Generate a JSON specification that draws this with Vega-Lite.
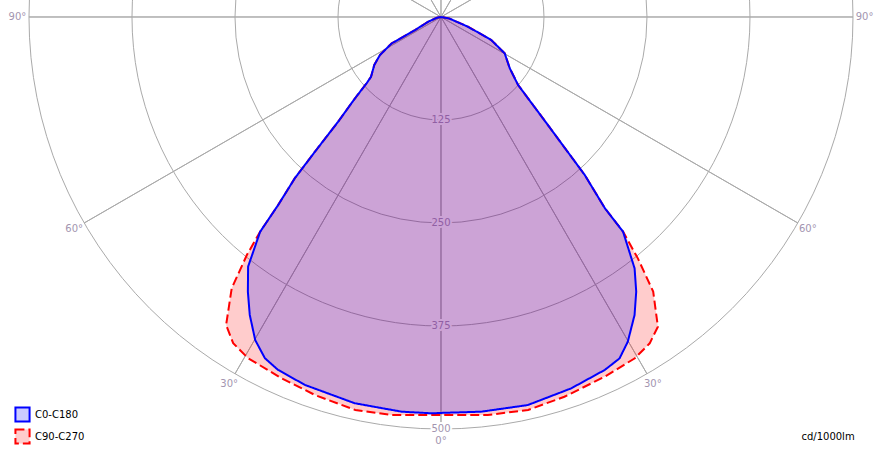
{
  "$schema": "https://vega.github.io/schema/vega-lite/v6.json",
  "width": 888,
  "height": 457,
  "autosize": "none",
  "padding": 0,
  "background": "white",
  "config": {"view": {"stroke": null}, "font": "DejaVu Sans"},
  "datasets": {
    "rings": [{"r": 125}, {"r": 250}, {"r": 375}, {"r": 500}],
    "spokes": [{"ang": 0}, {"ang": 30}, {"ang": -30}, {"ang": 60}, {"ang": -60}, {"ang": 90}, {"ang": -90}, {"ang": 120}, {"ang": -120}, {"ang": 150}, {"ang": -150}, {"ang": 180}],
    "anglabels": [{"ang": 0, "label": "0°"}, {"ang": 30, "label": "30°"}, {"ang": -30, "label": "30°"}, {"ang": 60, "label": "60°"}, {"ang": -60, "label": "60°"}, {"ang": 90, "label": "90°"}, {"ang": -90, "label": "90°"}],
    "unit": [{"t": "cd/1000lm"}],
    "curves": [
      {"series": "C0-C180", "ang": -90, "cd": 0},
      {"series": "C0-C180", "ang": -80, "cd": 5},
      {"series": "C0-C180", "ang": -69.7, "cd": 16.4},
      {"series": "C0-C180", "ang": -63.4, "cd": 35.3},
      {"series": "C0-C180", "ang": -61.9, "cd": 67.8},
      {"series": "C0-C180", "ang": -58.1, "cd": 87.2},
      {"series": "C0-C180", "ang": -54.3, "cd": 99.7},
      {"series": "C0-C180", "ang": -49.5, "cd": 111.7},
      {"series": "C0-C180", "ang": -48.3, "cd": 120.9},
      {"series": "C0-C180", "ang": -46.6, "cd": 143.6},
      {"series": "C0-C180", "ang": -44.5, "cd": 178.0},
      {"series": "C0-C180", "ang": -43.1, "cd": 223.8},
      {"series": "C0-C180", "ang": -42.2, "cd": 264.0},
      {"series": "C0-C180", "ang": -40.9, "cd": 301.7},
      {"series": "C0-C180", "ang": -40.1, "cd": 340.8},
      {"series": "C0-C180", "ang": -37.7, "cd": 382.8},
      {"series": "C0-C180", "ang": -35.1, "cd": 407.6},
      {"series": "C0-C180", "ang": -32.7, "cd": 429.6},
      {"series": "C0-C180", "ang": -29.9, "cd": 452.3},
      {"series": "C0-C180", "ang": -27.3, "cd": 466.0},
      {"series": "C0-C180", "ang": -24.8, "cd": 471.7},
      {"series": "C0-C180", "ang": -20.3, "cd": 476.1},
      {"series": "C0-C180", "ang": -12.6, "cd": 480.3},
      {"series": "C0-C180", "ang": -5.7, "cd": 481.4},
      {"series": "C0-C180", "ang": -1.3, "cd": 481.1},
      {"series": "C0-C180", "ang": 0, "cd": 480.5},
      {"series": "C0-C180", "ang": 5.8, "cd": 481.5},
      {"series": "C0-C180", "ang": 12.6, "cd": 482.6},
      {"series": "C0-C180", "ang": 19.3, "cd": 477.6},
      {"series": "C0-C180", "ang": 24.9, "cd": 472.2},
      {"series": "C0-C180", "ang": 27.6, "cd": 467.6},
      {"series": "C0-C180", "ang": 29.9, "cd": 454.7},
      {"series": "C0-C180", "ang": 33.0, "cd": 431.3},
      {"series": "C0-C180", "ang": 35.4, "cd": 409.0},
      {"series": "C0-C180", "ang": 37.6, "cd": 385.1},
      {"series": "C0-C180", "ang": 40.3, "cd": 341.6},
      {"series": "C0-C180", "ang": 40.6, "cd": 305.6},
      {"series": "C0-C180", "ang": 42.3, "cd": 259.2},
      {"series": "C0-C180", "ang": 44.7, "cd": 184.5},
      {"series": "C0-C180", "ang": 48.6, "cd": 124.7},
      {"series": "C0-C180", "ang": 53.3, "cd": 104.1},
      {"series": "C0-C180", "ang": 60.3, "cd": 89.0},
      {"series": "C0-C180", "ang": 65.4, "cd": 67.1},
      {"series": "C0-C180", "ang": 70.2, "cd": 34.8},
      {"series": "C0-C180", "ang": 80, "cd": 10},
      {"series": "C0-C180", "ang": 90, "cd": 0},
      {"series": "C90-C270", "ang": -90, "cd": 0},
      {"series": "C90-C270", "ang": -80, "cd": 5},
      {"series": "C90-C270", "ang": -69.7, "cd": 16.4},
      {"series": "C90-C270", "ang": -63.4, "cd": 35.3},
      {"series": "C90-C270", "ang": -61.9, "cd": 67.8},
      {"series": "C90-C270", "ang": -58.1, "cd": 87.2},
      {"series": "C90-C270", "ang": -54.3, "cd": 99.7},
      {"series": "C90-C270", "ang": -49.5, "cd": 111.7},
      {"series": "C90-C270", "ang": -48.3, "cd": 120.9},
      {"series": "C90-C270", "ang": -46.6, "cd": 143.6},
      {"series": "C90-C270", "ang": -44.5, "cd": 178.0},
      {"series": "C90-C270", "ang": -43.1, "cd": 223.8},
      {"series": "C90-C270", "ang": -42.2, "cd": 264.0},
      {"series": "C90-C270", "ang": -40.9, "cd": 301.7},
      {"series": "C90-C270", "ang": -40.1, "cd": 340.8},
      {"series": "C90-C270", "ang": -39.2, "cd": 372.8},
      {"series": "C90-C270", "ang": -37.65, "cd": 415.8},
      {"series": "C90-C270", "ang": -34.9, "cd": 455.8},
      {"series": "C90-C270", "ang": -32.5, "cd": 469.4},
      {"series": "C90-C270", "ang": -29.5, "cd": 475.7},
      {"series": "C90-C270", "ang": -23.8, "cd": 479.2},
      {"series": "C90-C270", "ang": -18.4, "cd": 483.6},
      {"series": "C90-C270", "ang": -12.3, "cd": 488.2},
      {"series": "C90-C270", "ang": -7.1, "cd": 486.7},
      {"series": "C90-C270", "ang": -1.8, "cd": 483.3},
      {"series": "C90-C270", "ang": 0, "cd": 483.0},
      {"series": "C90-C270", "ang": 2.0, "cd": 483.3},
      {"series": "C90-C270", "ang": 6.7, "cd": 486.4},
      {"series": "C90-C270", "ang": 12.5, "cd": 488.5},
      {"series": "C90-C270", "ang": 18.0, "cd": 484.6},
      {"series": "C90-C270", "ang": 24.5, "cd": 479.6},
      {"series": "C90-C270", "ang": 29.6, "cd": 476.3},
      {"series": "C90-C270", "ang": 32.6, "cd": 470.1},
      {"series": "C90-C270", "ang": 35.0, "cd": 458.9},
      {"series": "C90-C270", "ang": 37.7, "cd": 421.1},
      {"series": "C90-C270", "ang": 39.2, "cd": 378.0},
      {"series": "C90-C270", "ang": 40.3, "cd": 341.6},
      {"series": "C90-C270", "ang": 40.6, "cd": 305.6},
      {"series": "C90-C270", "ang": 42.3, "cd": 259.2},
      {"series": "C90-C270", "ang": 44.7, "cd": 184.5},
      {"series": "C90-C270", "ang": 48.6, "cd": 124.7},
      {"series": "C90-C270", "ang": 53.3, "cd": 104.1},
      {"series": "C90-C270", "ang": 60.3, "cd": 89.0},
      {"series": "C90-C270", "ang": 65.4, "cd": 67.1},
      {"series": "C90-C270", "ang": 70.2, "cd": 34.8},
      {"series": "C90-C270", "ang": 80, "cd": 10},
      {"series": "C90-C270", "ang": 90, "cd": 0}
    ]
  },
  "layer": [
    {
      "data": {"name": "rings"},
      "mark": {"type": "arc", "theta": 0, "theta2": 6.2832, "filled": false, "stroke": "#aaaaaa", "strokeWidth": 1},
      "encoding": {
        "x": {"datum": 0, "type": "quantitative", "scale": {"domain": [-535.19, 542.48], "nice": false, "zero": false}, "axis": null},
        "y": {"datum": 0, "type": "quantitative", "scale": {"domain": [-20.63, 534.0], "reverse": true, "nice": false, "zero": false}, "axis": null},
        "radius": {"field": "r", "type": "quantitative", "stack": null, "scale": {"type": "linear", "domain": [0, 500], "range": [0, 412], "zero": true}}
      }
    },
    {
      "data": {"name": "spokes"},
      "mark": {"type": "arc", "filled": false, "stroke": "#aaaaaa", "strokeWidth": 1},
      "encoding": {
        "x": {"datum": 0, "type": "quantitative", "axis": null},
        "y": {"datum": 0, "type": "quantitative", "axis": null},
        "theta": {"field": "ang", "type": "quantitative", "stack": null, "scale": {"domain": [180, -180], "range": [0, 6.283185307], "zero": false, "nice": false}},
        "theta2": {"field": "ang"},
        "radius": {"datum": 500, "type": "quantitative", "stack": null}
      }
    },
    {
      "data": {"name": "rings"},
      "mark": {"type": "text", "fontSize": 10, "fill": "white", "stroke": "white", "strokeWidth": 4, "strokeJoin": "round", "align": "center", "baseline": "middle"},
      "encoding": {
        "x": {"datum": 0, "type": "quantitative", "axis": null},
        "y": {"field": "r", "type": "quantitative", "axis": null},
        "text": {"field": "r", "type": "quantitative"}
      }
    },
    {
      "data": {"name": "rings"},
      "mark": {"type": "text", "fontSize": 10, "fill": "#a395b0", "align": "center", "baseline": "middle"},
      "encoding": {
        "x": {"datum": 0, "type": "quantitative", "axis": null},
        "y": {"field": "r", "type": "quantitative", "axis": null},
        "text": {"field": "r", "type": "quantitative"}
      }
    },
    {
      "data": {"name": "anglabels"},
      "mark": {"type": "text", "fontSize": 10, "fill": "#a395b0", "align": "center", "baseline": "middle"},
      "encoding": {
        "x": {"datum": 0, "type": "quantitative", "axis": null},
        "y": {"datum": 0, "type": "quantitative", "axis": null},
        "theta": {"field": "ang", "type": "quantitative", "stack": null},
        "radius": {"datum": 514, "type": "quantitative", "stack": null},
        "text": {"field": "label"}
      }
    },
    {
      "data": {"name": "curves"},
      "transform": [
        {"filter": "datum.series === 'C90-C270'"},
        {"calculate": "datum.cd * sin(datum.ang * PI / 180)", "as": "px"},
        {"calculate": "datum.cd * cos(datum.ang * PI / 180)", "as": "py"}
      ],
      "mark": {"type": "line", "strokeWidth": 2},
      "encoding": {
        "x": {"field": "px", "type": "quantitative", "axis": null},
        "y": {"field": "py", "type": "quantitative", "axis": null},
        "order": {"field": "ang", "type": "quantitative"},
        "stroke": {"field": "series", "type": "nominal", "scale": {"domain": ["C0-C180", "C90-C270"], "range": ["#0000ff", "#ff0000"]}, "legend": {"title": null, "orient": "none", "legendX": 14, "legendY": 406, "symbolType": "square", "symbolSize": 200, "symbolStrokeWidth": 2, "labelFontSize": 10, "labelColor": "#000000", "rowPadding": -1}},
        "fill": {"field": "series", "type": "nominal", "scale": {"domain": ["C0-C180", "C90-C270"], "range": ["rgba(0,0,255,0.2)", "rgba(255,0,0,0.2)"]}, "legend": {"title": null, "orient": "none", "legendX": 14, "legendY": 406, "symbolType": "square", "symbolSize": 200, "symbolStrokeWidth": 2, "labelFontSize": 10, "labelColor": "#000000", "rowPadding": -1}},
        "strokeDash": {"field": "series", "type": "nominal", "scale": {"domain": ["C0-C180", "C90-C270"], "range": [[1, 0], [9, 4]]}, "legend": {"title": null, "orient": "none", "legendX": 14, "legendY": 406, "symbolType": "square", "symbolSize": 200, "symbolStrokeWidth": 2, "labelFontSize": 10, "labelColor": "#000000", "rowPadding": -1}}
      }
    },
    {
      "data": {"name": "curves"},
      "transform": [
        {"filter": "datum.series === 'C0-C180'"},
        {"calculate": "datum.cd * sin(datum.ang * PI / 180)", "as": "px"},
        {"calculate": "datum.cd * cos(datum.ang * PI / 180)", "as": "py"}
      ],
      "mark": {"type": "line", "strokeWidth": 2},
      "encoding": {
        "x": {"field": "px", "type": "quantitative", "axis": null},
        "y": {"field": "py", "type": "quantitative", "axis": null},
        "order": {"field": "ang", "type": "quantitative"},
        "stroke": {"field": "series", "type": "nominal"},
        "fill": {"field": "series", "type": "nominal"},
        "strokeDash": {"field": "series", "type": "nominal"}
      }
    },
    {
      "data": {"name": "unit"},
      "mark": {"type": "text", "fontSize": 10, "fill": "#000000", "align": "right", "baseline": "middle"},
      "encoding": {
        "x": {"datum": 502, "type": "quantitative", "axis": null},
        "y": {"datum": 509.7, "type": "quantitative", "axis": null},
        "text": {"field": "t"}
      }
    }
  ]
}
